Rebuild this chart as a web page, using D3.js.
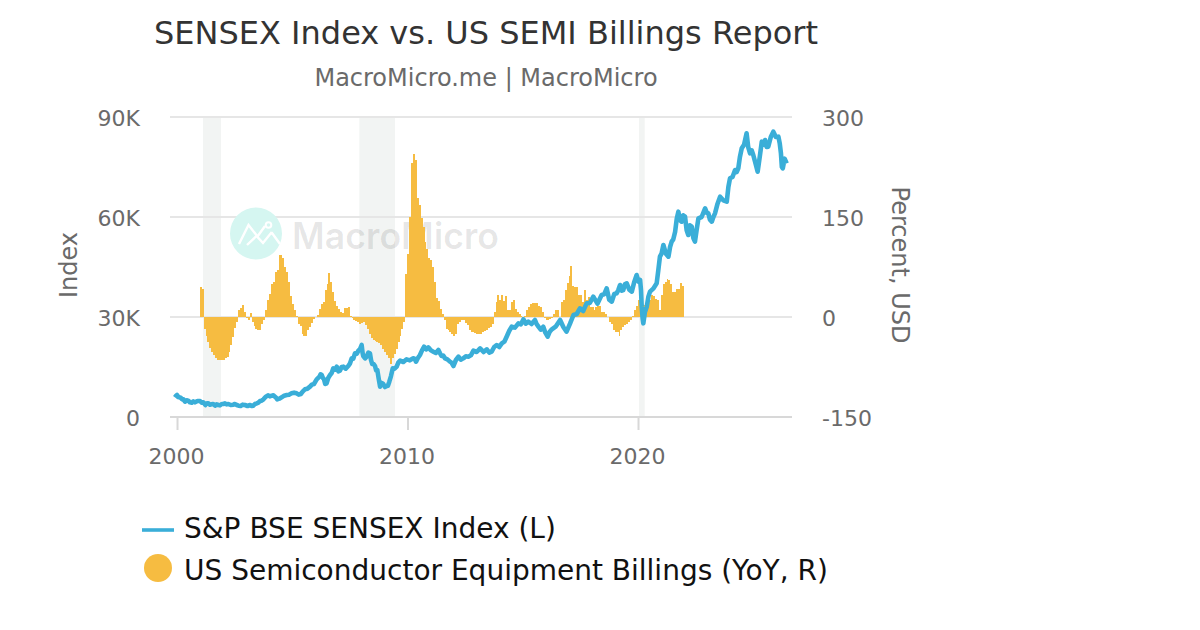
<!DOCTYPE html>
<html>
<head>
<meta charset="utf-8">
<script src="https://cdn.jsdelivr.net/npm/d3@7/dist/d3.min.js"></script>
<style>
  html, body { margin: 0; padding: 0; background: #fff; }
  svg { display: block; font-family: "DejaVu Sans", sans-serif; }
</style>
</head>
<body>
<svg id="chart" width="1200" height="630"></svg>
<script>
// Chart copy
const titleText = "SENSEX Index vs. US SEMI Billings Report";
const subtitleText = "MacroMicro.me | MacroMicro";
const leftAxisTitle = "Index";
const rightAxisTitle = "Percent, USD";
const lineName = "S&P BSE SENSEX Index (L)";
const barName = "US Semiconductor Equipment Billings (YoY, R)";

// Axis ticks
const xTicks = [2000, 2010, 2020];
const leftTicks = [0, 30000, 60000, 90000];
const rightTicks = [-150, 0, 150, 300];

// Recession periods, decimal years
const recessions = [[2001.13, 2001.91], [2007.91, 2009.46], [2020.04, 2020.29]];

// SENSEX level, decimal year and index value
const sensexYears = [
  1999.91, 1999.95, 2000.0, 2000.05, 2000.1, 2000.16, 2000.22, 2000.28, 2000.35, 2000.42, 2000.49, 2000.56,
  2000.64, 2000.71, 2000.78, 2000.89, 2001.0, 2001.07, 2001.14, 2001.18, 2001.23, 2001.3, 2001.36, 2001.43,
  2001.5, 2001.57, 2001.65, 2001.72, 2001.79, 2001.86, 2001.94, 2002.01, 2002.08, 2002.15, 2002.23, 2002.33,
  2002.44, 2002.51, 2002.59, 2002.67, 2002.76, 2002.85, 2002.95, 2003.06, 2003.17, 2003.24, 2003.31, 2003.38,
  2003.46, 2003.53, 2003.6, 2003.67, 2003.75, 2003.85, 2003.96, 2004.03, 2004.11, 2004.18, 2004.25, 2004.3,
  2004.35, 2004.44, 2004.54, 2004.65, 2004.76, 2004.86, 2004.97, 2005.08, 2005.19, 2005.28, 2005.37, 2005.46,
  2005.55, 2005.66, 2005.77, 2005.85, 2005.94, 2006.06, 2006.18, 2006.23, 2006.28, 2006.33, 2006.38, 2006.43,
  2006.49, 2006.56, 2006.64, 2006.71, 2006.78, 2006.85, 2006.93, 2007.0, 2007.07, 2007.14, 2007.22, 2007.32,
  2007.43, 2007.5, 2007.58, 2007.65, 2007.72, 2007.8, 2007.87, 2007.94, 2008.01, 2008.05, 2008.08, 2008.16,
  2008.23, 2008.3, 2008.37, 2008.42, 2008.47, 2008.53, 2008.59, 2008.64, 2008.69, 2008.75, 2008.81, 2008.88,
  2008.95, 2009.02, 2009.1, 2009.15, 2009.21, 2009.28, 2009.36, 2009.44, 2009.53, 2009.6, 2009.68, 2009.82,
  2009.96, 2010.1, 2010.25, 2010.31, 2010.37, 2010.45, 2010.54, 2010.63, 2010.72, 2010.81, 2010.9, 2011.01,
  2011.12, 2011.23, 2011.34, 2011.41, 2011.48, 2011.55, 2011.63, 2011.73, 2011.84, 2011.91, 2011.99, 2012.1,
  2012.21, 2012.31, 2012.42, 2012.53, 2012.64, 2012.75, 2012.86, 2013.0, 2013.15, 2013.3, 2013.44, 2013.55,
  2013.65, 2013.76, 2013.87, 2013.98, 2014.09, 2014.2, 2014.3, 2014.41, 2014.52, 2014.66, 2014.81, 2014.92,
  2015.03, 2015.13, 2015.24, 2015.38, 2015.53, 2015.6, 2015.68, 2015.78, 2015.89, 2015.98, 2016.08, 2016.17,
  2016.26, 2016.44, 2016.62, 2016.76, 2016.9, 2017.05, 2017.2, 2017.34, 2017.48, 2017.62, 2017.77, 2017.91,
  2018.06, 2018.24, 2018.42, 2018.53, 2018.64, 2018.75, 2018.86, 2018.97, 2019.07, 2019.14, 2019.22, 2019.29,
  2019.36, 2019.43, 2019.51, 2019.62, 2019.73, 2019.84, 2019.94, 2020.02, 2020.09, 2020.13, 2020.16, 2020.2,
  2020.23, 2020.3, 2020.38, 2020.45, 2020.52, 2020.66, 2020.81, 2020.88, 2020.95, 2021.02, 2021.1, 2021.21,
  2021.32, 2021.39, 2021.46, 2021.53, 2021.61, 2021.68, 2021.75, 2021.82, 2021.89, 2021.96, 2022.04, 2022.11,
  2022.18, 2022.25, 2022.33, 2022.4, 2022.47, 2022.54, 2022.62, 2022.76, 2022.91, 2022.98, 2023.05, 2023.12,
  2023.2, 2023.27, 2023.34, 2023.45, 2023.56, 2023.7, 2023.85, 2023.92, 2023.99, 2024.1, 2024.21, 2024.28,
  2024.35, 2024.42, 2024.5, 2024.6, 2024.71, 2024.78, 2024.86, 2024.93, 2025.0, 2025.1, 2025.19, 2025.28,
  2025.37, 2025.44, 2025.51, 2025.58, 2025.65, 2025.76, 2025.87, 2025.98, 2026.09, 2026.15, 2026.2, 2026.24,
  2026.28, 2026.36, 2026.45
];
const sensexValues = [
  5900, 6300, 6600, 6000, 5900, 5800, 5300, 5300, 4600, 5000, 4900, 4400,
  4300, 4700, 4400, 4800, 4800, 4300, 4400, 4100, 3600, 4100, 4100, 3700,
  3800, 3900, 3400, 3800, 3600, 3500, 3900, 3900, 4100, 3800, 3900, 3600,
  3700, 3900, 3600, 3400, 3300, 3700, 3600, 3300, 3600, 3300, 3400, 3900,
  4100, 4300, 4800, 4900, 5300, 6100, 6500, 6200, 6400, 6500, 6100, 5800,
  5300, 5500, 5900, 6400, 6600, 6700, 7100, 7300, 7100, 6700, 6900, 7700,
  8300, 8500, 9100, 9700, 9900, 11300, 12100, 12800, 12600, 11700, 11300, 9900,
  10100, 11700, 12600, 13200, 14600, 14200, 15100, 13700, 13900, 15000, 15100, 14500,
  15300, 16000, 17600, 17500, 19100, 19000, 19900, 20400, 21600, 19300, 18300, 17600,
  18100, 19300, 19100, 17000, 15900, 15900, 15300, 14000, 14100, 11500, 9100, 10200,
  9900, 9000, 9300, 9400, 10600, 12200, 14600, 14500, 15100, 16300, 16900, 16500,
  17300, 17000, 17600, 17500, 16600, 17700, 18600, 20000, 21100, 20300, 20900, 20000,
  19600, 19200, 20100, 19100, 18300, 18400, 17600, 17300, 16600, 16300, 15300, 17100,
  18100, 17200, 17600, 18200, 18100, 18500, 19900, 19500, 20600, 19500, 20300, 19300,
  19600, 21000, 21600, 21000, 22100, 22600, 24100, 25800, 27100, 26800, 28100, 27800,
  29300, 28000, 28600, 27900, 29100, 27900, 27100, 26200, 27100, 25300, 24100, 25600,
  26300, 27200, 29100, 27000, 25600, 28000, 30600, 30900, 32600, 31800, 34100, 34200,
  36100, 34000, 36600, 36800, 38600, 35200, 34600, 36900, 37100, 38000, 39600, 37900,
  38100, 39800, 40100, 38200, 37600, 40600, 42600, 40600, 41100, 38000, 33100, 29500,
  28100, 31500, 33100, 36100, 37600, 38500, 40100, 44000, 48100, 49000, 51600, 49000,
  48100, 51000, 52600, 53300, 55600, 59500, 61600, 59000, 58600, 60500, 60100, 56000,
  54600, 57500, 57100, 53700, 52600, 56000, 59600, 60000, 62600, 61300, 61100, 59200,
  58600, 60000, 61100, 64000, 66100, 65000, 64600, 69000, 71600, 72000, 74100, 73500,
  74600, 78000, 80600, 81700, 85100, 81000, 79100, 80000, 78600, 76000, 73600, 78000,
  82600, 81700, 83100, 81000, 81100, 84000, 85600, 84000, 84100, 82000, 79100, 75000,
  74600, 77500, 76100
];

// Monthly billings growth in percent, January 2001 to December 2021
const billingsStartYear = 2001;
const billingsYoY = [
  45, 42, -18, -28, -38, -46, -52, -57, -62, -65, -65, -65,
  -65, -62, -60, -52, -42, -30, -17, -8, 10, 14, 18, 7,
  -2, -5, 6, -7, -14, -18, -20, -20, -10, -5, 10, 25,
  35, 49, 52, 68, 70, 93, 93, 88, 75, 67, 52, 32,
  20, 10, 2, -10, -14, -25, -28, -28, -20, -15, -9, -3,
  0, 3, 12, 20, 22, 40, 50, 66, 52, 38, 24, 16,
  12, 8, 6, 13, 14, 15, 2, -1, -4, -6, -8, -10,
  -9, -8, -12, -18, -25, -32, -34, -36, -37, -39, -42, -48,
  -52, -57, -62, -70, -62, -55, -48, -38, -28, -18, -8, 65,
  94, 150, 231, 244, 235, 178, 168, 148, 135, 112, 102, 88,
  85, 75, 52, 28, 24, 12, 4, -5, -18, -20, -22, -26,
  -28, -25, -10, -7, -4, -5, -9, -12, -20, -22, -23, -24,
  -25, -25, -25, -22, -21, -19, -17, -15, -10, 8, 22, 33,
  25, 33, 24, 31, 10, 10, 22, 25, 12, 8, 4, 2,
  -1, 2, 10, 15, 19, 21, 21, 21, 17, 15, 8, -2,
  -4, -4, -3, -1, 4, 10, 10, 0, 22, 25, 40, 51,
  62, 76, 47, 45, 45, 33, 33, 22, 40, 25, 30, 15,
  15, 10, 15, 17, 17, 8, 8, 4, 0, -7, -10, -20,
  -22, -22, -28, -20, -15, -12, -10, -8, -5, 2, 10, 17,
  25, 25, 22, 18, 16, 15, 25, 33, 32, 27, 25, 10,
  33, 50, 53, 57, 55, 50, 37, 37, 42, 42, 51, 46
];

const colors = { line: "#3aaed8", bar: "#f6bc41", grid: "#e6e6e6", axis: "#d8d8d8", band: "#f2f4f3", label: "#6a6a6a" };

const plot = { left: 170, right: 792, top: 117, bottom: 417 };
const svg = d3.select("#chart");

const x = d3.scaleLinear().domain([1999.696, 2026.68]).range([plot.left, plot.right]);
const yLeft = d3.scaleLinear().domain([0, 90000]).range([plot.bottom, plot.top]);
const yRight = d3.scaleLinear().domain([-150, 300]).range([plot.bottom, plot.top]);

// Recession shading
svg.append("g").selectAll("rect").data(recessions).join("rect")
  .attr("x", d => x(d[0]))
  .attr("width", d => x(d[1]) - x(d[0]))
  .attr("y", plot.top)
  .attr("height", plot.bottom - plot.top)
  .attr("fill", colors.band);

// Horizontal grid
svg.append("g").selectAll("line").data(leftTicks.slice(1)).join("line")
  .attr("x1", plot.left).attr("x2", plot.right)
  .attr("y1", d => yLeft(d)).attr("y2", d => yLeft(d))
  .attr("stroke", colors.grid).attr("stroke-width", 2);

// Site mark behind the data
const mark = svg.append("g");
mark.append("circle").attr("cx", 256).attr("cy", 233.5).attr("r", 26).attr("fill", "#d5f6f1");
mark.append("path")
  .attr("d", "M239 244 L248.5 225 L257.5 236.5 L265 226 M247 245 L256.5 236 L263 243 L271 233 L272.5 234 M271 233 L272 233 L280 244")
  .attr("fill", "none").attr("stroke", "#fff").attr("stroke-width", 2.4);
mark.append("circle").attr("cx", 268.5).attr("cy", 225).attr("r", 2.8)
  .attr("fill", "none").attr("stroke", "#fff").attr("stroke-width", 2);
mark.append("text").attr("x", 292).attr("y", 248.5)
  .attr("textLength", 207).attr("lengthAdjust", "spacingAndGlyphs")
  .style("font-family", "Inter, sans-serif").style("font-weight", 600).style("font-size", "37px")
  .attr("fill", "#000").attr("fill-opacity", 0.1)
  .text("MacroMicro");

// Billings bars on the right axis
const monthWidth = x(2001 + 1 / 12) - x(2001);
svg.append("g").attr("shape-rendering", "crispEdges")
  .selectAll("rect").data(billingsYoY).join("rect")
  .attr("x", (d, i) => x(billingsStartYear + i / 12) - 0.3)
  .attr("width", monthWidth)
  .attr("y", d => yRight(Math.max(0, d)))
  .attr("height", d => Math.abs(yRight(d) - yRight(0)))
  .attr("fill", colors.bar);

// Index line on the left axis
const sensexPoints = sensexYears.map((year, i) => [year, sensexValues[i]]);
svg.append("path").datum(sensexPoints)
  .attr("fill", "none").attr("stroke", colors.line).attr("stroke-width", 4.6)
  .attr("stroke-linejoin", "round")
  .attr("d", d3.line().x(d => x(d[0])).y(d => yLeft(d[1])));

// Axes
const styleAxis = g => {
  g.selectAll(".domain").remove();
  g.selectAll("text").attr("fill", colors.label).style("font-size", "22px").style("font-family", '"DejaVu Sans", sans-serif');
};
const formatK = v => v === 0 ? "0" : (v / 1000) + "K";

const xAxis = svg.append("g").attr("transform", `translate(0,${plot.bottom})`)
  .call(d3.axisBottom(x).tickValues(xTicks).tickFormat(d3.format("d")).tickSize(13).tickPadding(18));
styleAxis(xAxis);
xAxis.selectAll("line").attr("stroke", colors.axis).attr("stroke-width", 2);
xAxis.selectAll("text").attr("dx", -1);
svg.append("line").attr("x1", plot.left).attr("x2", plot.right).attr("y1", plot.bottom).attr("y2", plot.bottom)
  .attr("stroke", colors.axis).attr("stroke-width", 2);

const leftAxis = svg.append("g").attr("transform", `translate(${plot.left},1)`)
  .call(d3.axisLeft(yLeft).tickValues(leftTicks).tickFormat(formatK).tickSize(0).tickPadding(30));
styleAxis(leftAxis);
const rightAxis = svg.append("g").attr("transform", `translate(${plot.right},1)`)
  .call(d3.axisRight(yRight).tickValues(rightTicks).tickFormat(d => String(d)).tickSize(0).tickPadding(30));
styleAxis(rightAxis);

// Titles
svg.append("text").attr("x", 486).attr("y", 44).attr("text-anchor", "middle")
  .attr("fill", "#333333").style("font-size", "32px").text(titleText);
svg.append("text").attr("x", 486).attr("y", 86).attr("text-anchor", "middle")
  .attr("fill", colors.label).style("font-size", "24px").text(subtitleText);
svg.append("text").attr("transform", "translate(77,265) rotate(-90)").attr("text-anchor", "middle")
  .attr("fill", colors.label).style("font-size", "24px").text(leftAxisTitle);
svg.append("text").attr("transform", "translate(892,265) rotate(90)").attr("text-anchor", "middle")
  .attr("fill", colors.label).style("font-size", "24px").text(rightAxisTitle);

// Legend
svg.append("line").attr("x1", 142).attr("x2", 174).attr("y1", 530).attr("y2", 530)
  .attr("stroke", colors.line).attr("stroke-width", 3.6);
svg.append("text").attr("x", 184).attr("y", 538).attr("fill", "#111").style("font-size", "28px").text(lineName);
svg.append("circle").attr("cx", 158).attr("cy", 568).attr("r", 14).attr("fill", colors.bar);
svg.append("text").attr("x", 184).attr("y", 580).attr("fill", "#111").style("font-size", "28px").text(barName);
</script>
</body>
</html>
